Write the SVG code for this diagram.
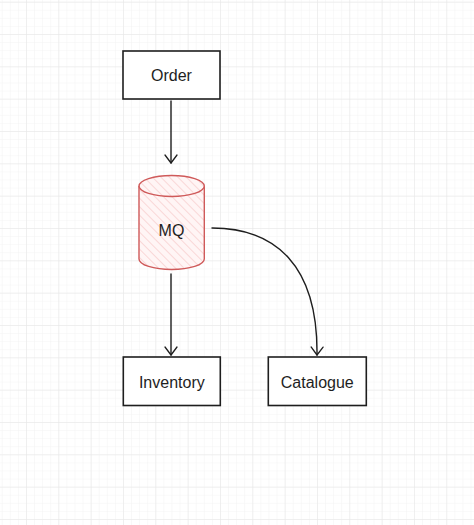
<svg xmlns="http://www.w3.org/2000/svg" width="474" height="525" viewBox="0 0 474 525">
<defs>
<pattern id="minor" x="-6.33" y="1.7" width="8.083" height="8.083" patternUnits="userSpaceOnUse">
<path d="M0,0H8.083M0,0V8.083" stroke="#f3f3f3" stroke-width="1" fill="none"/>
</pattern>
<pattern id="major" x="-6.33" y="1.7" width="32.33" height="32.33" patternUnits="userSpaceOnUse">
<path d="M0,0H32.33M0,0V32.33" stroke="#e6e6e6" stroke-width="1" fill="none"/>
</pattern>
<pattern id="hatch" width="6" height="6" patternUnits="userSpaceOnUse" patternTransform="rotate(-45)">
<rect width="6" height="6" fill="#fff5f5"/>
<line x1="0" y1="0" x2="0" y2="6" stroke="#f5c4c4" stroke-width="1.2"/>
</pattern>
<marker id="arr" viewBox="0 0 20 20" refX="10" refY="10" markerWidth="20" markerHeight="20" markerUnits="userSpaceOnUse" orient="auto">
<path d="M2,4 L10,10 L2,16" fill="none" stroke="#1e1e1e" stroke-width="1.3" stroke-linecap="round" stroke-linejoin="round"/>
</marker>
<style>
.box{fill:#ffffff;stroke:#1e1e1e;stroke-width:1.6}
.lbl{font-family:"Liberation Sans",Arial,sans-serif;font-size:16px;fill:#1e1e1e;text-anchor:middle;dominant-baseline:central}
.edge{fill:none;stroke:#1e1e1e;stroke-width:1.4;stroke-linecap:round}
.cyl{fill:url(#hatch);stroke:#cf5a5a;stroke-width:1.4}
</style>
</defs>
<rect width="474" height="525" fill="#ffffff"/>
<rect width="474" height="525" fill="url(#minor)"/>
<rect width="474" height="525" fill="url(#major)"/>
<g id="connectors">
<path class="edge" d="M171,101 V163" marker-end="url(#arr)"/>
<path class="edge" d="M171,274 V355" marker-end="url(#arr)"/>
<path class="edge" d="M212,228 C275,228 318,265 317,355" marker-end="url(#arr)"/>
</g>
<g id="order">
<rect class="box" x="123" y="51" width="97" height="48"/>
<text class="lbl" x="171.5" y="75">Order</text>
</g>
<g id="mq">
<path class="cyl" d="M139,186 A32.6,10.5 0 0 1 204.3,186 V259 A32.6,10.5 0 0 1 139,259 Z"/>
<path class="cyl" d="M139,186 A32.6,10.5 0 0 0 204.3,186" fill="none"/>
<text class="lbl" x="171.5" y="230">MQ</text>
</g>
<g id="inventory">
<rect class="box" x="123.3" y="357" width="97" height="48.5"/>
<text class="lbl" x="171.8" y="382">Inventory</text>
</g>
<g id="catalogue">
<rect class="box" x="268.3" y="357" width="98" height="48.5"/>
<text class="lbl" x="317.3" y="382">Catalogue</text>
</g>
</svg>
